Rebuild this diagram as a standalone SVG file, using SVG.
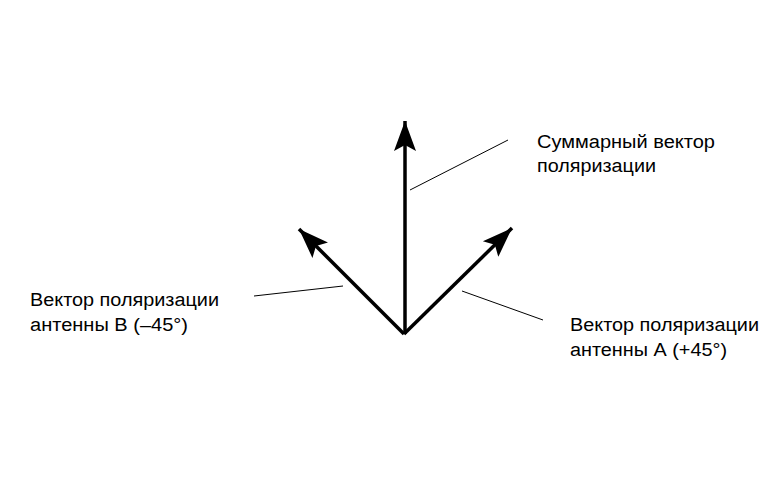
<svg xmlns="http://www.w3.org/2000/svg" width="777" height="477" viewBox="0 0 777 477">
<style>
text{font-family:"Liberation Sans",Arial,sans-serif;font-size:18px;fill:#000}
.v{stroke:#000;stroke-width:3.5;fill:none}
.l{stroke:#000;stroke-width:1;fill:none}
</style>
<defs>
<marker id="ah" markerUnits="userSpaceOnUse" markerWidth="34" markerHeight="24" refX="30" refY="11" orient="auto" viewBox="0 0 34 22">
<path d="M0,0 L30,11 L0,22 L6,11 Z" fill="#000"/>
</marker>
</defs>
<rect width="777" height="477" fill="#fff"/>
<g id="connectors">
<line class="v" x1="405" y1="334" x2="405" y2="121" marker-end="url(#ah)"/>
<line class="v" x1="404" y1="334" x2="299" y2="229" marker-end="url(#ah)"/>
<line class="v" x1="404" y1="334" x2="512" y2="228" marker-end="url(#ah)"/>
<line class="l" x1="410" y1="190" x2="508" y2="140"/>
<line class="l" x1="254" y1="296" x2="343" y2="286"/>
<line class="l" x1="462" y1="291" x2="543" y2="320"/>
</g>
<g id="sum"><text x="537" y="148" textLength="178" lengthAdjust="spacingAndGlyphs">Суммарный вектор</text><text x="537" y="172" textLength="119" lengthAdjust="spacingAndGlyphs">поляризации</text></g>
<g id="b"><text x="30" y="306" textLength="189" lengthAdjust="spacingAndGlyphs">Вектор поляризации</text><text x="30" y="331" textLength="158" lengthAdjust="spacingAndGlyphs">антенны В (–45°)</text></g>
<g id="a"><text x="570" y="331" textLength="189" lengthAdjust="spacingAndGlyphs">Вектор поляризации</text><text x="570" y="356" textLength="157" lengthAdjust="spacingAndGlyphs">антенны А (+45°)</text></g>
</svg>
